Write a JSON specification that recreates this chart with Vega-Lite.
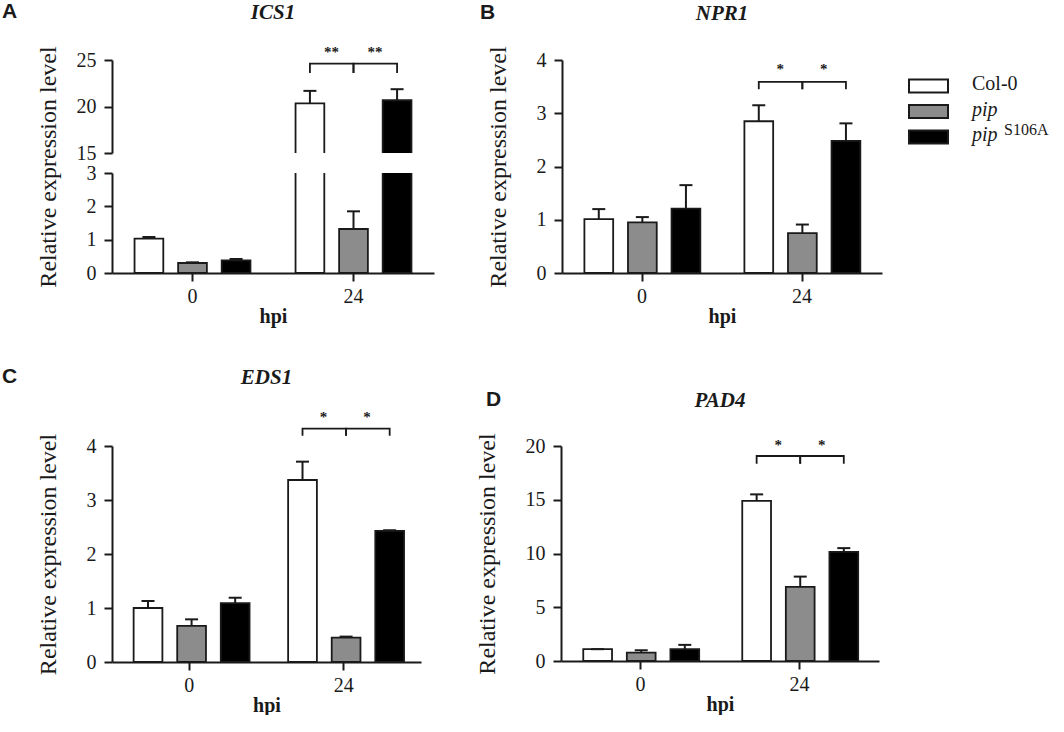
{
  "$schema": "https://vega.github.io/schema/vega-lite/v6.json",
  "padding": {"left": 1, "top": 1, "right": 0, "bottom": 0},
  "background": "white",
  "datasets": {
    "bars": [
      {"gene": "ICS1", "hpi": "0", "genotype": "Col-0", "mean": 1.03, "upper": 1.08},
      {"gene": "ICS1", "hpi": "0", "genotype": "pip", "mean": 0.30, "upper": 0.32},
      {"gene": "ICS1", "hpi": "0", "genotype": "pipS106A", "mean": 0.38, "upper": 0.42},
      {"gene": "ICS1", "hpi": "24", "genotype": "Col-0", "mean": 20.34, "upper": 21.68},
      {"gene": "ICS1", "hpi": "24", "genotype": "pip", "mean": 1.32, "upper": 1.85},
      {"gene": "ICS1", "hpi": "24", "genotype": "pipS106A", "mean": 20.67, "upper": 21.86},
      {"gene": "NPR1", "hpi": "0", "genotype": "Col-0", "mean": 1.01, "upper": 1.2},
      {"gene": "NPR1", "hpi": "0", "genotype": "pip", "mean": 0.95, "upper": 1.05},
      {"gene": "NPR1", "hpi": "0", "genotype": "pipS106A", "mean": 1.21, "upper": 1.65},
      {"gene": "NPR1", "hpi": "24", "genotype": "Col-0", "mean": 2.85, "upper": 3.15},
      {"gene": "NPR1", "hpi": "24", "genotype": "pip", "mean": 0.75, "upper": 0.91},
      {"gene": "NPR1", "hpi": "24", "genotype": "pipS106A", "mean": 2.48, "upper": 2.81},
      {"gene": "EDS1", "hpi": "0", "genotype": "Col-0", "mean": 1.0, "upper": 1.13},
      {"gene": "EDS1", "hpi": "0", "genotype": "pip", "mean": 0.67, "upper": 0.79},
      {"gene": "EDS1", "hpi": "0", "genotype": "pipS106A", "mean": 1.09, "upper": 1.19},
      {"gene": "EDS1", "hpi": "24", "genotype": "Col-0", "mean": 3.37, "upper": 3.71},
      {"gene": "EDS1", "hpi": "24", "genotype": "pip", "mean": 0.45, "upper": 0.47},
      {"gene": "EDS1", "hpi": "24", "genotype": "pipS106A", "mean": 2.43, "upper": 2.44},
      {"gene": "PAD4", "hpi": "0", "genotype": "Col-0", "mean": 1.1, "upper": 1.1},
      {"gene": "PAD4", "hpi": "0", "genotype": "pip", "mean": 0.78, "upper": 1.0},
      {"gene": "PAD4", "hpi": "0", "genotype": "pipS106A", "mean": 1.1, "upper": 1.5},
      {"gene": "PAD4", "hpi": "24", "genotype": "Col-0", "mean": 14.9, "upper": 15.5},
      {"gene": "PAD4", "hpi": "24", "genotype": "pip", "mean": 6.9, "upper": 7.85},
      {"gene": "PAD4", "hpi": "24", "genotype": "pipS106A", "mean": 10.15, "upper": 10.5}
    ],
    "brackets": [
      {"gene": "ICS1", "hpi": "24", "pair": "a", "genotype": "Col-0", "y": 23.6, "k": 0},
      {"gene": "ICS1", "hpi": "24", "pair": "a", "genotype": "Col-0", "y": 24.6, "k": 1},
      {"gene": "ICS1", "hpi": "24", "pair": "a", "genotype": "pip", "y": 24.6, "k": 2},
      {"gene": "ICS1", "hpi": "24", "pair": "a", "genotype": "pip", "y": 23.6, "k": 3},
      {"gene": "ICS1", "hpi": "24", "pair": "b", "genotype": "pip", "y": 23.6, "k": 0},
      {"gene": "ICS1", "hpi": "24", "pair": "b", "genotype": "pip", "y": 24.6, "k": 1},
      {"gene": "ICS1", "hpi": "24", "pair": "b", "genotype": "pipS106A", "y": 24.6, "k": 2},
      {"gene": "ICS1", "hpi": "24", "pair": "b", "genotype": "pipS106A", "y": 23.6, "k": 3},
      {"gene": "NPR1", "hpi": "24", "pair": "a", "genotype": "Col-0", "y": 3.45, "k": 0},
      {"gene": "NPR1", "hpi": "24", "pair": "a", "genotype": "Col-0", "y": 3.59, "k": 1},
      {"gene": "NPR1", "hpi": "24", "pair": "a", "genotype": "pip", "y": 3.59, "k": 2},
      {"gene": "NPR1", "hpi": "24", "pair": "a", "genotype": "pip", "y": 3.45, "k": 3},
      {"gene": "NPR1", "hpi": "24", "pair": "b", "genotype": "pip", "y": 3.45, "k": 0},
      {"gene": "NPR1", "hpi": "24", "pair": "b", "genotype": "pip", "y": 3.59, "k": 1},
      {"gene": "NPR1", "hpi": "24", "pair": "b", "genotype": "pipS106A", "y": 3.59, "k": 2},
      {"gene": "NPR1", "hpi": "24", "pair": "b", "genotype": "pipS106A", "y": 3.45, "k": 3},
      {"gene": "EDS1", "hpi": "24", "pair": "a", "genotype": "Col-0", "y": 4.19, "k": 0},
      {"gene": "EDS1", "hpi": "24", "pair": "a", "genotype": "Col-0", "y": 4.32, "k": 1},
      {"gene": "EDS1", "hpi": "24", "pair": "a", "genotype": "pip", "y": 4.32, "k": 2},
      {"gene": "EDS1", "hpi": "24", "pair": "a", "genotype": "pip", "y": 4.19, "k": 3},
      {"gene": "EDS1", "hpi": "24", "pair": "b", "genotype": "pip", "y": 4.19, "k": 0},
      {"gene": "EDS1", "hpi": "24", "pair": "b", "genotype": "pip", "y": 4.32, "k": 1},
      {"gene": "EDS1", "hpi": "24", "pair": "b", "genotype": "pipS106A", "y": 4.32, "k": 2},
      {"gene": "EDS1", "hpi": "24", "pair": "b", "genotype": "pipS106A", "y": 4.19, "k": 3},
      {"gene": "PAD4", "hpi": "24", "pair": "a", "genotype": "Col-0", "y": 18.35, "k": 0},
      {"gene": "PAD4", "hpi": "24", "pair": "a", "genotype": "Col-0", "y": 19.07, "k": 1},
      {"gene": "PAD4", "hpi": "24", "pair": "a", "genotype": "pip", "y": 19.07, "k": 2},
      {"gene": "PAD4", "hpi": "24", "pair": "a", "genotype": "pip", "y": 18.35, "k": 3},
      {"gene": "PAD4", "hpi": "24", "pair": "b", "genotype": "pip", "y": 18.35, "k": 0},
      {"gene": "PAD4", "hpi": "24", "pair": "b", "genotype": "pip", "y": 19.07, "k": 1},
      {"gene": "PAD4", "hpi": "24", "pair": "b", "genotype": "pipS106A", "y": 19.07, "k": 2},
      {"gene": "PAD4", "hpi": "24", "pair": "b", "genotype": "pipS106A", "y": 18.35, "k": 3}
    ],
    "stars": [
      {"gene": "ICS1", "hpi": "24", "genotype": "Col-0", "y": 25.3, "label": "**"},
      {"gene": "ICS1", "hpi": "24", "genotype": "pip", "y": 25.3, "label": "**"},
      {"gene": "NPR1", "hpi": "24", "genotype": "Col-0", "y": 3.73, "label": "*"},
      {"gene": "NPR1", "hpi": "24", "genotype": "pip", "y": 3.73, "label": "*"},
      {"gene": "EDS1", "hpi": "24", "genotype": "Col-0", "y": 4.44, "label": "*"},
      {"gene": "EDS1", "hpi": "24", "genotype": "pip", "y": 4.44, "label": "*"},
      {"gene": "PAD4", "hpi": "24", "genotype": "Col-0", "y": 19.6, "label": "*"},
      {"gene": "PAD4", "hpi": "24", "genotype": "pip", "y": 19.6, "label": "*"}
    ],
    "legend": [
      {"genotype": "Col-0", "label": "Col-0", "sup": ""},
      {"genotype": "pip", "label": "pip", "sup": ""},
      {"genotype": "pipS106A", "label": "pip", "sup": "S106A"}
    ]
  },
  "vconcat": [
    {
      "spacing": 45,
      "hconcat": [
        {
          "title": {"text": "A", "anchor": "start", "frame": "bounds", "font": "Liberation Sans", "fontSize": 21, "fontWeight": "bold", "fontStyle": "normal", "dx": -34, "dy": 37, "offset": 0, "baseline": "alphabetic"},
          "bounds": "flush",
          "spacing": 20,
          "vconcat": [
            {
              "width": 322, "height": 93,
              "title": "ICS1",
              "layer": [
                {"data": {"name": "bars"}, "transform": [{"filter": "datum.gene == 'ICS1'"}],
                 "mark": {"type": "bar", "stroke": "#1a1a1a", "strokeWidth": 1.8, "clip": true},
                 "encoding": {
                   "x": {"field": "hpi", "type": "ordinal", "sort": ["0", "24"], "axis": null, "scale": {"paddingInner": 0.28, "paddingOuter": 0.14}},
                   "xOffset": {"field": "genotype", "type": "nominal", "sort": ["Col-0", "pip", "pipS106A"], "scale": {"paddingInner": 0.34, "paddingOuter": 0}},
                   "y": {"field": "mean", "type": "quantitative", "title": null, "scale": {"domain": [15, 25]}, "axis": {"values": [15, 20, 25], "tickCount": 10, "format": "d"}},
                   "fill": {"field": "genotype", "type": "nominal", "scale": {"domain": ["Col-0", "pip", "pipS106A"], "range": ["#ffffff", "#8c8c8c", "#000000"]}, "legend": null}
                 }},
                {"data": {"name": "bars"}, "transform": [{"filter": "datum.gene == 'ICS1'"}],
                 "mark": {"type": "rule", "color": "#1a1a1a", "strokeWidth": 2, "clip": true},
                 "encoding": {
                   "x": {"field": "hpi", "type": "ordinal", "sort": ["0", "24"], "axis": null},
                   "xOffset": {"field": "genotype", "type": "nominal", "sort": ["Col-0", "pip", "pipS106A"]},
                   "y": {"field": "mean", "type": "quantitative", "title": null},
                   "y2": {"field": "upper"}
                 }},
                {"data": {"name": "bars"}, "transform": [{"filter": "datum.gene == 'ICS1'"}],
                 "mark": {"type": "tick", "color": "#1a1a1a", "size": 13, "thickness": 2, "opacity": 1, "clip": true},
                 "encoding": {
                   "x": {"field": "hpi", "type": "ordinal", "sort": ["0", "24"], "axis": null},
                   "xOffset": {"field": "genotype", "type": "nominal", "sort": ["Col-0", "pip", "pipS106A"]},
                   "y": {"field": "upper", "type": "quantitative", "title": null}
                 }},
                {"data": {"name": "brackets"}, "transform": [{"filter": "datum.gene == 'ICS1'"}],
                 "mark": {"type": "line", "color": "#1a1a1a", "strokeWidth": 1.8},
                 "encoding": {
                   "x": {"field": "hpi", "type": "ordinal", "sort": ["0", "24"], "axis": null},
                   "xOffset": {"field": "genotype", "type": "nominal", "sort": ["Col-0", "pip", "pipS106A"]},
                   "y": {"field": "y", "type": "quantitative", "title": null},
                   "detail": {"field": "pair", "type": "nominal"},
                   "order": {"field": "k", "type": "quantitative"}
                 }},
                {"data": {"name": "stars"}, "transform": [{"filter": "datum.gene == 'ICS1'"}],
                 "mark": {"type": "text", "font": "Liberation Serif", "fontSize": 15, "fontWeight": "bold", "dx": 21.5, "baseline": "alphabetic", "color": "#1a1a1a"},
                 "encoding": {
                   "x": {"field": "hpi", "type": "ordinal", "sort": ["0", "24"], "axis": null},
                   "xOffset": {"field": "genotype", "type": "nominal", "sort": ["Col-0", "pip", "pipS106A"]},
                   "y": {"field": "y", "type": "quantitative", "title": null},
                   "text": {"field": "label"}
                 }}
              ]
            },
            {
              "width": 322, "height": 100,
              "layer": [
                {"data": {"name": "bars"}, "transform": [{"filter": "datum.gene == 'ICS1'"}],
                 "mark": {"type": "bar", "stroke": "#1a1a1a", "strokeWidth": 1.8, "clip": true},
                 "encoding": {
                   "x": {"field": "hpi", "type": "ordinal", "sort": ["0", "24"], "title": "hpi", "scale": {"paddingInner": 0.28, "paddingOuter": 0.14}},
                   "xOffset": {"field": "genotype", "type": "nominal", "sort": ["Col-0", "pip", "pipS106A"], "scale": {"paddingInner": 0.34, "paddingOuter": 0}},
                   "y": {"field": "mean", "type": "quantitative", "title": "Relative expression level", "scale": {"domain": [0, 3]}, "axis": {"values": [0, 1, 2, 3], "tickCount": 10, "format": "d", "titleY": -6.5}},
                   "fill": {"field": "genotype", "type": "nominal", "scale": {"domain": ["Col-0", "pip", "pipS106A"], "range": ["#ffffff", "#8c8c8c", "#000000"]}, "legend": null}
                 }},
                {"data": {"name": "bars"}, "transform": [{"filter": "datum.gene == 'ICS1'"}],
                 "mark": {"type": "rule", "color": "#1a1a1a", "strokeWidth": 2, "clip": true},
                 "encoding": {
                   "x": {"field": "hpi", "type": "ordinal", "sort": ["0", "24"], "title": "hpi"},
                   "xOffset": {"field": "genotype", "type": "nominal", "sort": ["Col-0", "pip", "pipS106A"]},
                   "y": {"field": "mean", "type": "quantitative", "title": "Relative expression level"},
                   "y2": {"field": "upper"}
                 }},
                {"data": {"name": "bars"}, "transform": [{"filter": "datum.gene == 'ICS1'"}],
                 "mark": {"type": "tick", "color": "#1a1a1a", "size": 13, "thickness": 2, "opacity": 1, "clip": true},
                 "encoding": {
                   "x": {"field": "hpi", "type": "ordinal", "sort": ["0", "24"], "title": "hpi"},
                   "xOffset": {"field": "genotype", "type": "nominal", "sort": ["Col-0", "pip", "pipS106A"]},
                   "y": {"field": "upper", "type": "quantitative", "title": "Relative expression level"}
                 }}
              ]
            }
          ]
        },
        {
          "spacing": 23,
          "hconcat": [
            {
              "title": {"text": "B", "anchor": "start", "frame": "bounds", "font": "Liberation Sans", "fontSize": 21, "fontWeight": "bold", "fontStyle": "normal", "dx": -6, "dy": 37, "offset": 0, "baseline": "alphabetic"},
              "vconcat": [
                {
                  "width": 320, "height": 213,
                  "title": "NPR1",
                  "layer": [
                    {"data": {"name": "bars"}, "transform": [{"filter": "datum.gene == 'NPR1'"}],
                     "mark": {"type": "bar", "stroke": "#1a1a1a", "strokeWidth": 1.8},
                     "encoding": {
                       "x": {"field": "hpi", "type": "ordinal", "sort": ["0", "24"], "title": "hpi", "scale": {"paddingInner": 0.28, "paddingOuter": 0.14}},
                       "xOffset": {"field": "genotype", "type": "nominal", "sort": ["Col-0", "pip", "pipS106A"], "scale": {"paddingInner": 0.34, "paddingOuter": 0}},
                       "y": {"field": "mean", "type": "quantitative", "title": "Relative expression level", "scale": {"domain": [0, 4]}, "axis": {"values": [0, 1, 2, 3, 4], "tickCount": 10, "format": "d"}},
                       "fill": {"field": "genotype", "type": "nominal", "scale": {"domain": ["Col-0", "pip", "pipS106A"], "range": ["#ffffff", "#8c8c8c", "#000000"]}, "legend": null}
                     }},
                    {"data": {"name": "bars"}, "transform": [{"filter": "datum.gene == 'NPR1'"}],
                     "mark": {"type": "rule", "color": "#1a1a1a", "strokeWidth": 2},
                     "encoding": {
                       "x": {"field": "hpi", "type": "ordinal", "sort": ["0", "24"], "title": "hpi"},
                       "xOffset": {"field": "genotype", "type": "nominal", "sort": ["Col-0", "pip", "pipS106A"]},
                       "y": {"field": "mean", "type": "quantitative", "title": "Relative expression level"},
                       "y2": {"field": "upper"}
                     }},
                    {"data": {"name": "bars"}, "transform": [{"filter": "datum.gene == 'NPR1'"}],
                     "mark": {"type": "tick", "color": "#1a1a1a", "size": 13, "thickness": 2, "opacity": 1},
                     "encoding": {
                       "x": {"field": "hpi", "type": "ordinal", "sort": ["0", "24"], "title": "hpi"},
                       "xOffset": {"field": "genotype", "type": "nominal", "sort": ["Col-0", "pip", "pipS106A"]},
                       "y": {"field": "upper", "type": "quantitative", "title": "Relative expression level"}
                     }},
                    {"data": {"name": "brackets"}, "transform": [{"filter": "datum.gene == 'NPR1'"}],
                     "mark": {"type": "line", "color": "#1a1a1a", "strokeWidth": 1.8},
                     "encoding": {
                       "x": {"field": "hpi", "type": "ordinal", "sort": ["0", "24"], "title": "hpi"},
                       "xOffset": {"field": "genotype", "type": "nominal", "sort": ["Col-0", "pip", "pipS106A"]},
                       "y": {"field": "y", "type": "quantitative", "title": "Relative expression level"},
                       "detail": {"field": "pair", "type": "nominal"},
                       "order": {"field": "k", "type": "quantitative"}
                     }},
                    {"data": {"name": "stars"}, "transform": [{"filter": "datum.gene == 'NPR1'"}],
                     "mark": {"type": "text", "font": "Liberation Serif", "fontSize": 15, "fontWeight": "bold", "dx": 21.5, "baseline": "alphabetic", "color": "#1a1a1a"},
                     "encoding": {
                       "x": {"field": "hpi", "type": "ordinal", "sort": ["0", "24"], "title": "hpi"},
                       "xOffset": {"field": "genotype", "type": "nominal", "sort": ["Col-0", "pip", "pipS106A"]},
                       "y": {"field": "y", "type": "quantitative", "title": "Relative expression level"},
                       "text": {"field": "label"}
                     }}
                  ]
                }
              ]
            },
            {
              "width": 41, "height": 80,
              "data": {"name": "legend"},
              "layer": [
                {"mark": {"type": "point", "shape": "M-1,-0.33L1,-0.33L1,0.33L-1,0.33Z", "size": 1521, "filled": true, "opacity": 1, "stroke": "#1a1a1a", "strokeWidth": 2},
                 "encoding": {
                   "y": {"field": "genotype", "type": "nominal", "sort": ["Col-0", "pip", "pipS106A"], "scale": {"type": "point", "padding": 0, "range": [26, 77]}, "axis": null},
                   "fill": {"field": "genotype", "type": "nominal", "scale": {"domain": ["Col-0", "pip", "pipS106A"], "range": ["#ffffff", "#8c8c8c", "#000000"]}, "legend": null}
                 }},
                {"transform": [{"filter": "datum.genotype == 'Col-0'"}],
                 "mark": {"type": "text", "align": "left", "baseline": "alphabetic", "dx": 43.5, "dy": 4, "font": "Liberation Serif", "fontSize": 20, "color": "#1a1a1a"},
                 "encoding": {
                   "y": {"field": "genotype", "type": "nominal", "sort": ["Col-0", "pip", "pipS106A"], "axis": null},
                   "text": {"field": "label"}
                 }},
                {"transform": [{"filter": "datum.genotype != 'Col-0'"}],
                 "mark": {"type": "text", "align": "left", "baseline": "alphabetic", "dx": 43.5, "dy": 4, "font": "Liberation Serif", "fontSize": 20, "fontStyle": "italic", "color": "#1a1a1a"},
                 "encoding": {
                   "y": {"field": "genotype", "type": "nominal", "sort": ["Col-0", "pip", "pipS106A"], "axis": null},
                   "text": {"field": "label"}
                 }},
                {"transform": [{"filter": "datum.sup != ''"}],
                 "mark": {"type": "text", "align": "left", "baseline": "alphabetic", "dx": 75.5, "dy": -2, "font": "Liberation Serif", "fontSize": 16, "color": "#1a1a1a"},
                 "encoding": {
                   "y": {"field": "genotype", "type": "nominal", "sort": ["Col-0", "pip", "pipS106A"], "axis": null},
                   "text": {"field": "sup"}
                 }}
              ]
            }
          ]
        }
      ]
    },
    {
      "spacing": 53,
      "hconcat": [
        {
          "title": {"text": "C", "anchor": "start", "frame": "bounds", "font": "Liberation Sans", "fontSize": 21, "fontWeight": "bold", "fontStyle": "normal", "dx": -34, "dy": 37, "offset": 0, "baseline": "alphabetic"},
          "vconcat": [
            {
              "width": 309, "height": 216,
              "title": "EDS1",
              "layer": [
                {"data": {"name": "bars"}, "transform": [{"filter": "datum.gene == 'EDS1'"}],
                 "mark": {"type": "bar", "stroke": "#1a1a1a", "strokeWidth": 1.8},
                 "encoding": {
                   "x": {"field": "hpi", "type": "ordinal", "sort": ["0", "24"], "title": "hpi", "scale": {"paddingInner": 0.28, "paddingOuter": 0.14}},
                   "xOffset": {"field": "genotype", "type": "nominal", "sort": ["Col-0", "pip", "pipS106A"], "scale": {"paddingInner": 0.34, "paddingOuter": 0}},
                   "y": {"field": "mean", "type": "quantitative", "title": "Relative expression level", "scale": {"domain": [0, 4]}, "axis": {"values": [0, 1, 2, 3, 4], "tickCount": 10, "format": "d"}},
                   "fill": {"field": "genotype", "type": "nominal", "scale": {"domain": ["Col-0", "pip", "pipS106A"], "range": ["#ffffff", "#8c8c8c", "#000000"]}, "legend": null}
                 }},
                {"data": {"name": "bars"}, "transform": [{"filter": "datum.gene == 'EDS1'"}],
                 "mark": {"type": "rule", "color": "#1a1a1a", "strokeWidth": 2},
                 "encoding": {
                   "x": {"field": "hpi", "type": "ordinal", "sort": ["0", "24"], "title": "hpi"},
                   "xOffset": {"field": "genotype", "type": "nominal", "sort": ["Col-0", "pip", "pipS106A"]},
                   "y": {"field": "mean", "type": "quantitative", "title": "Relative expression level"},
                   "y2": {"field": "upper"}
                 }},
                {"data": {"name": "bars"}, "transform": [{"filter": "datum.gene == 'EDS1'"}],
                 "mark": {"type": "tick", "color": "#1a1a1a", "size": 13, "thickness": 2, "opacity": 1},
                 "encoding": {
                   "x": {"field": "hpi", "type": "ordinal", "sort": ["0", "24"], "title": "hpi"},
                   "xOffset": {"field": "genotype", "type": "nominal", "sort": ["Col-0", "pip", "pipS106A"]},
                   "y": {"field": "upper", "type": "quantitative", "title": "Relative expression level"}
                 }},
                {"data": {"name": "brackets"}, "transform": [{"filter": "datum.gene == 'EDS1'"}],
                 "mark": {"type": "line", "color": "#1a1a1a", "strokeWidth": 1.8},
                 "encoding": {
                   "x": {"field": "hpi", "type": "ordinal", "sort": ["0", "24"], "title": "hpi"},
                   "xOffset": {"field": "genotype", "type": "nominal", "sort": ["Col-0", "pip", "pipS106A"]},
                   "y": {"field": "y", "type": "quantitative", "title": "Relative expression level"},
                   "detail": {"field": "pair", "type": "nominal"},
                   "order": {"field": "k", "type": "quantitative"}
                 }},
                {"data": {"name": "stars"}, "transform": [{"filter": "datum.gene == 'EDS1'"}],
                 "mark": {"type": "text", "font": "Liberation Serif", "fontSize": 15, "fontWeight": "bold", "dx": 21, "baseline": "alphabetic", "color": "#1a1a1a"},
                 "encoding": {
                   "x": {"field": "hpi", "type": "ordinal", "sort": ["0", "24"], "title": "hpi"},
                   "xOffset": {"field": "genotype", "type": "nominal", "sort": ["Col-0", "pip", "pipS106A"]},
                   "y": {"field": "y", "type": "quantitative", "title": "Relative expression level"},
                   "text": {"field": "label"}
                 }}
              ]
            }
          ]
        },
        {
          "title": {"text": "D", "anchor": "start", "frame": "bounds", "font": "Liberation Sans", "fontSize": 21, "fontWeight": "bold", "fontStyle": "normal", "dx": 11, "dy": 37, "offset": 0, "baseline": "alphabetic"},
          "vconcat": [
            {
              "width": 318, "height": 215,
              "title": "PAD4",
              "layer": [
                {"data": {"name": "bars"}, "transform": [{"filter": "datum.gene == 'PAD4'"}],
                 "mark": {"type": "bar", "stroke": "#1a1a1a", "strokeWidth": 1.8},
                 "encoding": {
                   "x": {"field": "hpi", "type": "ordinal", "sort": ["0", "24"], "title": "hpi", "scale": {"paddingInner": 0.28, "paddingOuter": 0.14}},
                   "xOffset": {"field": "genotype", "type": "nominal", "sort": ["Col-0", "pip", "pipS106A"], "scale": {"paddingInner": 0.34, "paddingOuter": 0}},
                   "y": {"field": "mean", "type": "quantitative", "title": "Relative expression level", "scale": {"domain": [0, 20]}, "axis": {"values": [0, 5, 10, 15, 20], "tickCount": 10, "format": "d"}},
                   "fill": {"field": "genotype", "type": "nominal", "scale": {"domain": ["Col-0", "pip", "pipS106A"], "range": ["#ffffff", "#8c8c8c", "#000000"]}, "legend": null}
                 }},
                {"data": {"name": "bars"}, "transform": [{"filter": "datum.gene == 'PAD4'"}],
                 "mark": {"type": "rule", "color": "#1a1a1a", "strokeWidth": 2},
                 "encoding": {
                   "x": {"field": "hpi", "type": "ordinal", "sort": ["0", "24"], "title": "hpi"},
                   "xOffset": {"field": "genotype", "type": "nominal", "sort": ["Col-0", "pip", "pipS106A"]},
                   "y": {"field": "mean", "type": "quantitative", "title": "Relative expression level"},
                   "y2": {"field": "upper"}
                 }},
                {"data": {"name": "bars"}, "transform": [{"filter": "datum.gene == 'PAD4'"}],
                 "mark": {"type": "tick", "color": "#1a1a1a", "size": 13, "thickness": 2, "opacity": 1},
                 "encoding": {
                   "x": {"field": "hpi", "type": "ordinal", "sort": ["0", "24"], "title": "hpi"},
                   "xOffset": {"field": "genotype", "type": "nominal", "sort": ["Col-0", "pip", "pipS106A"]},
                   "y": {"field": "upper", "type": "quantitative", "title": "Relative expression level"}
                 }},
                {"data": {"name": "brackets"}, "transform": [{"filter": "datum.gene == 'PAD4'"}],
                 "mark": {"type": "line", "color": "#1a1a1a", "strokeWidth": 1.8},
                 "encoding": {
                   "x": {"field": "hpi", "type": "ordinal", "sort": ["0", "24"], "title": "hpi"},
                   "xOffset": {"field": "genotype", "type": "nominal", "sort": ["Col-0", "pip", "pipS106A"]},
                   "y": {"field": "y", "type": "quantitative", "title": "Relative expression level"},
                   "detail": {"field": "pair", "type": "nominal"},
                   "order": {"field": "k", "type": "quantitative"}
                 }},
                {"data": {"name": "stars"}, "transform": [{"filter": "datum.gene == 'PAD4'"}],
                 "mark": {"type": "text", "font": "Liberation Serif", "fontSize": 15, "fontWeight": "bold", "dx": 21.5, "baseline": "alphabetic", "color": "#1a1a1a"},
                 "encoding": {
                   "x": {"field": "hpi", "type": "ordinal", "sort": ["0", "24"], "title": "hpi"},
                   "xOffset": {"field": "genotype", "type": "nominal", "sort": ["Col-0", "pip", "pipS106A"]},
                   "y": {"field": "y", "type": "quantitative", "title": "Relative expression level"},
                   "text": {"field": "label"}
                 }}
              ]
            }
          ]
        }
      ]
    }
  ],
  "spacing": 40,
  "config": {
    "view": {"stroke": null},
    "axis": {"domainColor": "#1a1a1a", "domainWidth": 2, "tickColor": "#1a1a1a", "tickWidth": 2, "tickSize": 8, "labelFont": "Liberation Serif", "labelFontSize": 20, "labelColor": "#1a1a1a", "titleFont": "Liberation Serif", "titleColor": "#1a1a1a", "grid": false, "labelOverlap": false},
    "axisY": {"titleFontSize": 24, "titleFontWeight": "normal", "labelPadding": 8, "titlePadding": 26},
    "axisX": {"titleFontSize": 20, "titleFontWeight": "bold", "labelAngle": 0, "labelPadding": 5, "titlePadding": 0},
    "title": {"font": "Liberation Serif", "fontSize": 21, "fontStyle": "italic", "fontWeight": "bold", "color": "#1a1a1a", "frame": "group", "offset": 22, "baseline": "alphabetic"}
  }
}
